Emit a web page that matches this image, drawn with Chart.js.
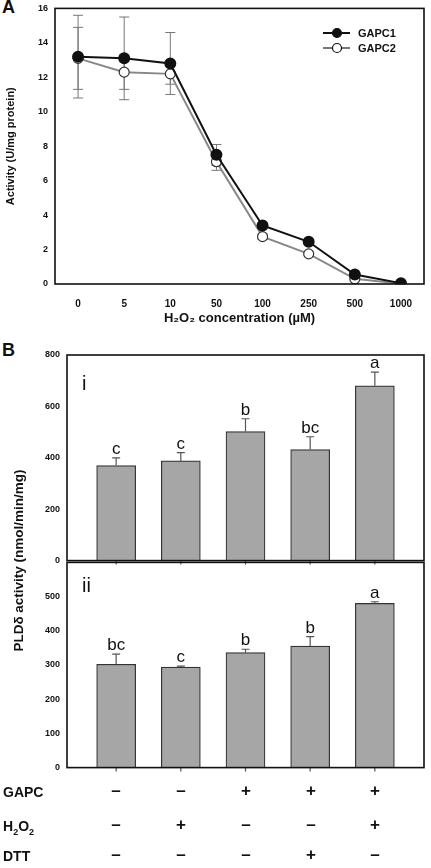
<!DOCTYPE html>
<html><head><meta charset="utf-8">
<script src="https://cdn.jsdelivr.net/npm/chart.js@4"></script>
<style>
body{margin:0;width:431px;height:868px;position:relative;background:#fff;font-family:Arial,"Liberation Sans",sans-serif;overflow:hidden}
canvas{position:absolute;left:0}
.t{position:absolute;font-weight:bold;font-size:17px;color:#111}
.row{position:absolute;left:3px;font-weight:bold;font-size:14px;color:#111}
.sym{position:absolute;font-weight:bold;font-size:17px;color:#111;width:20px;text-align:center}
</style></head><body>
<div class="t" style="left:2px;top:-3px;font-size:18px">A</div>
<div class="t" style="left:2px;top:340px;font-size:18px">B</div>
<canvas id="a" style="top:0" width="431" height="330"></canvas>
<canvas id="b1" style="top:330px" width="431" height="239"></canvas>
<canvas id="b2" style="top:554px" width="431" height="222"></canvas>
<div class="t" style="left:-82px;top:553px;width:200px;text-align:center;transform:rotate(-90deg);font-size:13.5px;white-space:nowrap">PLDδ activity (nmol/min/mg)</div>
<div id="tbl"></div>
<script>
const concentrations=['0','5','10','50','100','250','500','1000'];
const gapc1=[13.2,13.1,12.8,7.5,3.4,2.45,0.55,0.05];
const gapc1Err=[2.4,2.4,1.8,0.6,0.15,0.15,0.1,0.05];
const gapc2=[13.1,12.3,12.2,7.1,2.75,1.75,0.3,0.02];
const gapc2Err=[1.8,1.0,0.6,0.5,0.15,0.1,0.05,0.02];
const barsI=[370,388,502,432,680];
const barsIErr=[30,32,50,50,53];
const lettersI=['c','c','b','bc','a'];
const barsII=[302,294,336,355,480];
const barsIIErr=[30,3,10,28,5];
const lettersII=['bc','c','b','b','a'];
const treatments=['GAPC','H₂O₂','DTT'];
const signs=[['-','-','+','+','+'],['-','+','-','-','+'],['-','-','-','+','-']];

const F='Arial, "Liberation Sans", sans-serif';
const border={id:'border',afterDraw(c){const a=c.chartArea,x=c.ctx;x.save();x.strokeStyle='#111';x.lineWidth=1.6;x.strokeRect(a.left,a.top,a.right-a.left,a.bottom-a.top);x.restore();}};

const errA={id:'errA',beforeDatasetsDraw(c){const x=c.ctx,ys=c.scales.y,xs=c.scales.x;x.save();x.strokeStyle='#777';x.lineWidth=1;
 [[gapc1,gapc1Err],[gapc2,gapc2Err]].forEach(([v,e])=>v.forEach((val,i)=>{const px=xs.getPixelForValue(i),t=ys.getPixelForValue(val+e[i]),b=ys.getPixelForValue(val-e[i]);x.beginPath();x.moveTo(px,t);x.lineTo(px,b);x.moveTo(px-5,t);x.lineTo(px+5,t);x.moveTo(px-5,b);x.lineTo(px+5,b);x.stroke();}));x.restore();},
 afterDraw(c){const x=c.ctx;x.save();x.font='bold 11px '+F;x.textBaseline='middle';
 [[33,'#111','#111','GAPC1'],[48,'#777','#fff','GAPC2']].forEach(([y,lc,fc,t])=>{x.strokeStyle=lc;x.lineWidth=2;x.beginPath();x.moveTo(323,y);x.lineTo(350,y);x.stroke();x.beginPath();x.arc(337,y,4.5,0,7);x.fillStyle=fc;x.fill();x.lineWidth=1.2;x.strokeStyle='#111';x.stroke();x.fillStyle='#111';x.fillText(t,358,y+1);});x.restore();}};
new Chart(document.getElementById('a'),{type:'line',
 data:{labels:concentrations,datasets:[
  {data:gapc1,borderColor:'#111',borderWidth:2,pointRadius:5,pointBackgroundColor:'#111',pointBorderColor:'#111'},
  {data:gapc2,borderColor:'#888',borderWidth:2,pointRadius:5,pointBackgroundColor:'#fff',pointBorderColor:'#333',pointBorderWidth:1.2}]},
 options:{responsive:false,animation:false,layout:{padding:{top:6,right:5}},plugins:{legend:{display:false},tooltip:{enabled:false}},
 scales:{x:{offset:true,grid:{display:false,drawTicks:true},border:{display:false},ticks:{color:'#111',font:{family:F,weight:'bold',size:10},padding:6},
   title:{display:true,text:'H₂O₂ concentration (µM)',color:'#111',font:{family:F,weight:'bold',size:13},padding:{top:2}},afterFit(s){s.height=46;}},
  y:{min:0,max:16,ticks:{stepSize:2,color:'#111',font:{family:F,weight:'bold',size:9}},grid:{display:false,drawTicks:true,tickLength:4},border:{display:false},
   title:{display:true,text:'Activity (U/mg protein)',color:'#111',font:{family:F,weight:'bold',size:11}},afterFit(s){s.width=55;}}}},
 plugins:[border,errA]});

function barPanel(id,vals,errs,letters,max,padTop,xh,hideTop){
 const lbl={id:'lbl',afterDatasetsDraw(c){const x=c.ctx,ys=c.scales.y,xs=c.scales.x;x.save();x.strokeStyle='#555';x.lineWidth=1.2;x.fillStyle='#111';x.font='17px '+F;x.textAlign='center';
  vals.forEach((v,i)=>{const px=xs.getPixelForValue(i),t=ys.getPixelForValue(v+errs[i]),b=ys.getPixelForValue(v);x.beginPath();x.moveTo(px,b);x.lineTo(px,t);x.moveTo(px-4,t);x.lineTo(px+4,t);x.stroke();x.fillText(letters[i],px,t-4);
   x.beginPath();x.moveTo(px,c.chartArea.bottom);x.lineTo(px,c.chartArea.bottom+4);x.stroke();});
  x.font='20px '+F;x.textAlign='left';x.fillText(id==='b1'?'i':'ii',c.chartArea.left+15,c.chartArea.top+(id==='b1'?35:30));x.restore();}};
 new Chart(document.getElementById(id),{type:'bar',
  data:{datasets:[{data:vals.map((v,i)=>({x:i,y:v})),backgroundColor:'#a6a6a6',borderColor:'#333',borderWidth:1.2,barThickness:39}]},
  options:{responsive:false,animation:false,layout:{padding:{top:padTop,right:7}},plugins:{legend:{display:false},tooltip:{enabled:false}},
  scales:{x:{type:'linear',offset:false,min:-0.76,max:4.76,display:true,ticks:{display:false},grid:{display:false,offset:false},border:{display:false},afterFit(s){s.height=xh;}},
   y:{min:0,max:max,ticks:{stepSize:max===800?200:100,color:'#111',font:{family:F,weight:'bold',size:9},callback:v=>(hideTop&&v===max)?'':v},grid:{display:false,tickLength:4},border:{display:false},afterFit(s){s.width=67;}}}},
  plugins:[border,lbl]});
}
barPanel('b1',barsI,barsIErr,lettersI,800,25,4,false);
barPanel('b2',barsII,barsIIErr,lettersII,600,7,7,true);

const centers=[116,181,246,311,375],rowsY=[784,818,848];
let h='';
treatments.forEach((t,r)=>{h+=`<div class="row" style="top:${rowsY[r]}px">${t==='H₂O₂'?'H<sub style="font-size:9px">2</sub>O<sub style="font-size:9px">2</sub>':t}</div>`;
 signs[r].forEach((s,i)=>{h+=`<div class="sym" style="left:${centers[i]-10}px;top:${rowsY[r]-3}px">${s==='-'?'–':'+'}</div>`;});});
document.getElementById('tbl').innerHTML=h;
</script></body></html>
